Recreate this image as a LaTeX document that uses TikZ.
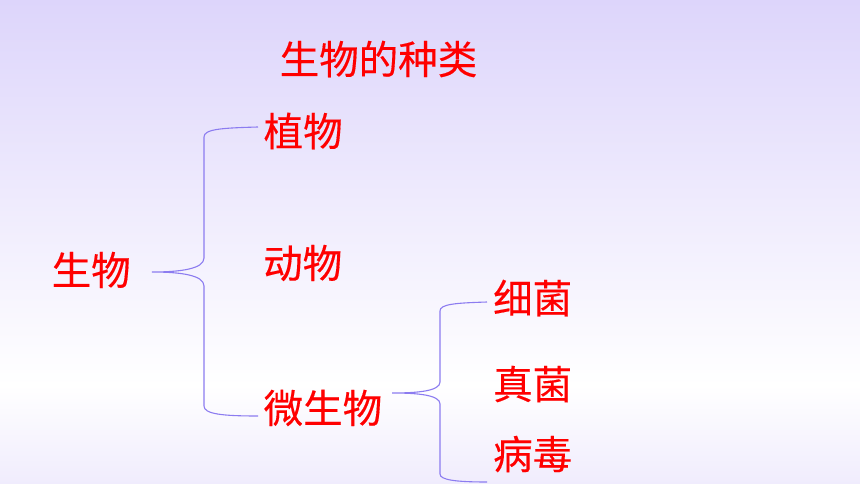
\documentclass[tikz,border=0pt]{standalone}
\usepackage{fontspec}
\newfontfamily\cjk[FakeBold=0.3]{Noto Sans CJK SC}
\definecolor{bgtop}{RGB}{221,213,251}
\definecolor{bgbot}{RGB}{240,236,253}
\definecolor{bracecol}{RGB}{140,124,240}
\definecolor{txtred}{RGB}{255,0,0}
\tikzset{
  lbl/.style={anchor=west,inner sep=0pt,text=txtred,font=\cjk\fontsize{39.5}{39.5}\selectfont},
  brace/.style={draw=bracecol,line width=1.1pt}
}
\begin{document}
\begin{tikzpicture}[x=1pt,y=-1pt]
\useasboundingbox (0,0) rectangle (860,484);
\shade[top color=bgtop,bottom color=white] (0,0) rectangle (860,386);
\shade[top color=white,bottom color=bgbot] (0,385) rectangle (860,484);
% title
\node[lbl,anchor=center] (title) at (378.5,59) {生物的种类};
% level 1
\node[lbl] (sw) at (51.5,270) {生物};
% level 2
\node[lbl] (zw) at (263.5,131) {植物};
\node[lbl] (dw) at (263,263) {动物};
\node[lbl] (wsw) at (263.5,408) {微生物};
% level 3
\node[lbl] (xj) at (493,298) {细菌};
\node[lbl] (zj) at (493,384) {真菌};
\node[lbl] (bd) at (493,454) {病毒};
% brace 1 points
\coordinate (t1) at (152,272);
\coordinate (a1) at (258,127);
\coordinate (b1) at (258,416);
% brace 2 points
\coordinate (t2) at (392,393);
\coordinate (a2) at (487,302);
\coordinate (b2) at (487,482);
% brace 1
\draw[brace] (a1) .. controls (222,128) and (204,129) .. (204,137) -- (204,258)
  .. controls (204,269) and (180,272) .. (t1)
  .. controls (180,272) and (204,275) .. (204,286) -- (204,406)
  .. controls (204,414) and (222,416) .. (b1);
% brace 2
\draw[brace] (a2) .. controls (456,303) and (440,304) .. (440,311) -- (440,382)
  .. controls (440,391) and (418,393) .. (t2)
  .. controls (418,393) and (440,395) .. (440,404) -- (440,474)
  .. controls (440,480) and (456,482) .. (b2);
\end{tikzpicture}
\end{document}
